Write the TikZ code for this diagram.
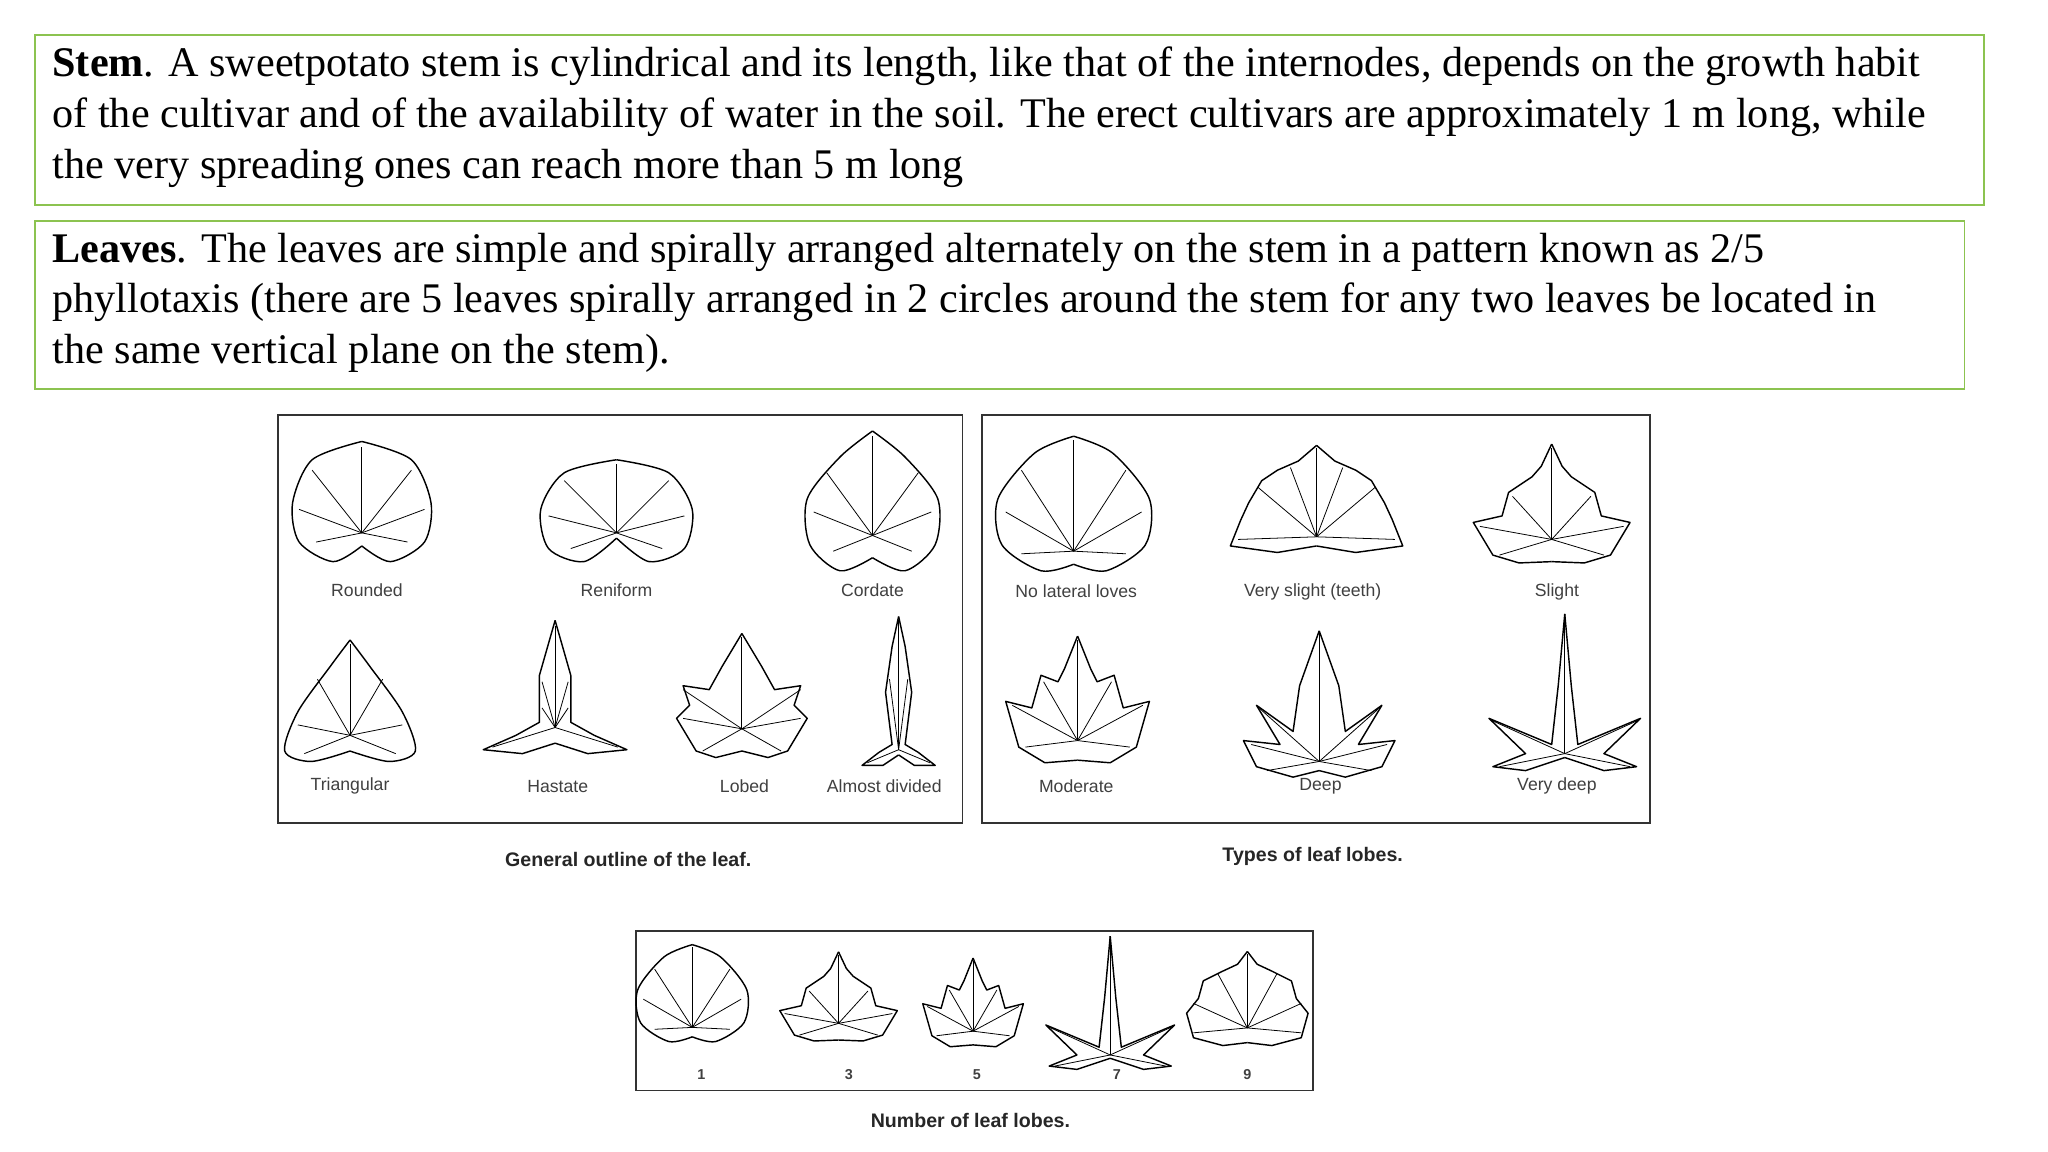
\documentclass[tikz,border=0pt]{standalone}
\usepackage{fontspec}
\setmainfont{Liberation Serif}
\newfontfamily\arial{Liberation Sans}
\definecolor{boxgreen}{RGB}{140,195,80}
\tikzset{x=1pt,y=-1pt,
 gbox/.style={draw=boxgreen,line width=1.2pt},
 pbox/.style={draw=black!80,line width=1.3pt},
 leafline/.style={line width=1.1pt,line join=round},
 vein/.style={line width=0.6pt},
 body/.style={anchor=north west,align=left,inner sep=0pt,font=\fontsize{32.3}{39}\selectfont},
 lab/.style={font=\arial\fontsize{13.5}{15}\selectfont,text=black!75,inner sep=0pt},
 captext/.style={font=\arial\bfseries\fontsize{15}{17}\selectfont,text=black!85,inner sep=0pt}}
\newcommand\myleaf[7]{%
\begin{scope}[shift={#1},scale=#2]
\draw[leafline] plot[#3] coordinates {#4};
\draw[leafline,xscale=-1] plot[#3] coordinates {#4};
\draw[vein] (0,#7) -- (0,#6);
\foreach \a/\b in {#5}{\draw[vein] (0,#7) -- (\a,\b); \draw[vein] (0,#7) -- (-\a,\b);}
\end{scope}}
\begin{document}
\begin{tikzpicture}
\useasboundingbox (0,0) rectangle (1568,882);
\fill[white] (0,0) rectangle (1568,882);
\draw[gbox] (27,27) rectangle (1519,157);
\node[body] (t1) at (40,36) {\textbf{Stem}. A sweetpotato stem is cylindrical and its length, like that of the internodes, depends on the growth habit\\of the cultivar and of the availability of water in the soil. The erect cultivars are approximately 1 m long, while\\the very spreading ones can reach more than 5 m long};
\draw[gbox] (27,169) rectangle (1504,298);
\node[body] (t2) at (40,178) {\textbf{Leaves}. The leaves are simple and spirally arranged alternately on the stem in a pattern known as 2/5\\phyllotaxis (there are 5 leaves spirally arranged in 2 circles around the stem for any two leaves be located in\\the same vertical plane on the stem).};
\draw[pbox] (213,318) rectangle (737,630);
\draw[pbox] (752,318) rectangle (1263,630);
\draw[pbox] (487,713) rectangle (1005,835);
\myleaf{(277,390)}{1}{smooth}{(0,28) (-22,40) (-48,25) (-53,-5) (-38,-38) (0,-52)}{-38/-30,-48/0,-35/25}{-48}{18}
\myleaf{(472,390)}{1}{smooth}{(0,22) (-25,40) (-52,30) (-58,0) (-40,-28) (0,-38)}{-40/-22,-52/5,-35/30}{-35}{18}
\myleaf{(668,392)}{1}{smooth}{(0,35) (-25,45) (-48,25) (-50,-10) (-25,-42) (0,-62)}{-35/-30,-45/0,-30/30}{-58}{18}
\myleaf{(268,545)}{1}{smooth}{(0,30) (-30,38) (-50,30) (-40,0) (-15,-35) (0,-55)}{-25/-25,-40/10,-35/32}{-52}{18}
\myleaf{(425,537)}{1}{sharp plot}{(0,32) (-25,40) (-55,37) (-30,26) (-12,16) (-12,-20) (0,-62)}{-48/35,-10/-15,-10/5}{-58}{20}
\myleaf{(568,540)}{1}{sharp plot}{(0,35) (-20,40) (-35,35) (-50,10) (-40,0) (-45,-15) (-25,-12) (-15,-30) (0,-55)}{-45/-12,-45/10,-30/35}{-52}{18}
\myleaf{(688,530)}{1}{sharp plot}{(0,48) (-12,56) (-28,56) (-15,46) (-5,40) (-10,0) (-5,-35) (0,-58)}{-24/54,-7/-10}{-55}{44}
\myleaf{(822,392)}{1}{smooth}{(0,40) (-25,45) (-55,25) (-58,-10) (-30,-45) (0,-58)}{-40/-32,-52/0,-40/32}{-55}{30}
\myleaf{(1008,393)}{1}{sharp plot}{(0,25) (-30,30) (-66,25) (-58,5) (-52,-8) (-42,-25) (-30,-33) (-14,-40) (0,-52)}{-60/20,-45/-20,-20/-35}{-50}{18}
\myleaf{(1188,395)}{1}{sharp plot}{(0,35) (-25,36) (-45,30) (-60,5) (-38,0) (-33,-18) (-15,-30) (-8,-38) (0,-55)}{-55/8,-30/-15,-40/30}{-52}{18}
\myleaf{(825,542)}{1}{sharp plot}{(0,40) (-25,42) (-45,30) (-55,-5) (-35,0) (-28,-25) (-15,-20) (-10,-30) (0,-55)}{-50/-2,-26/-20,-40/30}{-52}{25}
\myleaf{(1010,545)}{1}{sharp plot}{(0,45) (-20,50) (-48,42) (-58,22) (-30,25) (-48,-5) (-20,15) (-15,-20) (0,-62)}{-52/25,-45/-2,-40/45}{-60}{38}
\myleaf{(1198,535)}{1}{sharp plot}{(0,45) (-30,55) (-55,52) (-30,42) (-58,15) (-10,35) (-5,-10) (0,-65)}{-50/52,-55/17}{-62}{42}
\myleaf{(530,765)}{0.72}{smooth}{(0,40) (-25,45) (-55,25) (-58,-10) (-30,-45) (0,-58)}{-40/-32,-52/0,-40/32}{-55}{30}
\myleaf{(642,770)}{0.75}{sharp plot}{(0,35) (-25,36) (-45,30) (-60,5) (-38,0) (-33,-18) (-15,-30) (-8,-38) (0,-55)}{-55/8,-30/-15,-40/30}{-52}{18}
\myleaf{(745,772)}{0.7}{sharp plot}{(0,40) (-25,42) (-45,30) (-55,-5) (-35,0) (-28,-25) (-15,-20) (-10,-30) (0,-55)}{-50/-2,-26/-20,-40/30}{-52}{25}
\myleaf{(850,772)}{0.85}{sharp plot}{(0,45) (-30,55) (-55,52) (-30,42) (-58,15) (-10,35) (-5,-10) (0,-65)}{-50/52,-55/17}{-62}{42}
\myleaf{(955,772)}{0.75}{sharp plot}{(0,35) (-25,38) (-55,30) (-62,5) (-50,-10) (-45,-28) (-25,-38) (-10,-45) (0,-58)}{-55/25,-55/-5,-30/-35}{-55}{20}
\node[lab] (l1) at (281,452) {Rounded};
\node[lab] (l2) at (472,452) {Reniform};
\node[lab] (l3) at (668,452) {Cordate};
\node[lab] (l4) at (268,602) {Triangular};
\node[lab] (l5) at (427,602) {Hastate};
\node[lab] (l6) at (570,602) {Lobed};
\node[lab] (l7) at (677,602) {Almost divided};
\node[lab] (l8) at (824,453) {No lateral loves};
\node[lab] (l9) at (1005,453) {Very slight (teeth)};
\node[lab] (l10) at (1192,453) {Slight};
\node[lab] (l11) at (824,602) {Moderate};
\node[lab] (l12) at (1011,602) {Deep};
\node[lab] (l13) at (1192,602) {Very deep};
\node[lab,font=\arial\bfseries\fontsize{11}{12}\selectfont] (n1) at (537,823) {1};
\node[lab,font=\arial\bfseries\fontsize{11}{12}\selectfont] (n3) at (650,823) {3};
\node[lab,font=\arial\bfseries\fontsize{11}{12}\selectfont] (n5) at (748,823) {5};
\node[lab,font=\arial\bfseries\fontsize{11}{12}\selectfont] (n7) at (855,823) {7};
\node[lab,font=\arial\bfseries\fontsize{11}{12}\selectfont] (n9) at (955,823) {9};
\node[captext] (c1) at (481,658) {General outline of the leaf.};
\node[captext] (c2) at (1005,656) {Types of leaf lobes.};
\node[captext] (c3) at (743,858) {Number of leaf lobes.};
\end{tikzpicture}
\end{document}
